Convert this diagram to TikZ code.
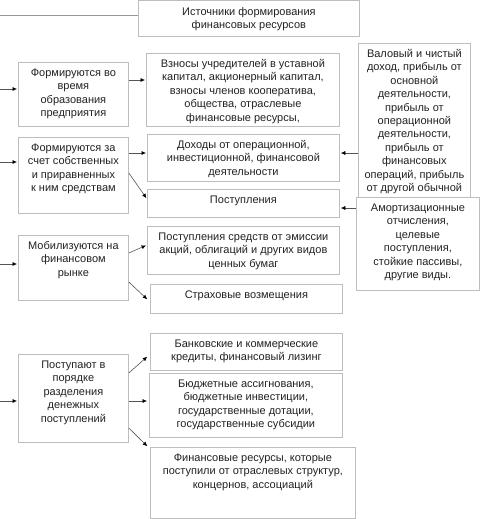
\documentclass[tikz,border=0pt]{standalone}
\usepackage{fontspec}
\setmainfont{Liberation Sans}
\usetikzlibrary{arrows.meta}
\definecolor{boxgray}{HTML}{BDBDBD}
\definecolor{txtgray}{HTML}{222222}
\definecolor{linegray}{HTML}{555555}
\tikzset{
  box/.style={draw=boxgray, line width=0.8pt, fill=white, inner sep=0pt, rectangle},
  txt/.style={inner sep=0pt, align=center, text=txtgray, font=\fontsize{11}{13.4}\selectfont},
  arr/.style={draw=linegray, line width=0.6pt, -{Latex[length=4.5pt,width=4pt,color=black]}, shorten >=1pt},
  plain/.style={draw=boxgray!80!black, line width=0.8pt},
}
\newcommand\bx[6]{%
  \node[box,anchor=north west,minimum width=#4pt,minimum height=#5pt] (#1) at (#2,#3) {};
  \node[txt,anchor=north] (#1t) at ([yshift=-5pt]#1.north) {\strut#6};}
\begin{document}
\begin{tikzpicture}[x=1pt,y=-1pt]
\useasboundingbox (0,0) rectangle (481,519);
\bx{top}{138}{0.5}{221}{36}{Источники формирования\\финансовых ресурсов}
\bx{a1}{18}{62}{110}{64}{Формируются во\\время\\образования\\предприятия}
\bx{b1}{146}{53}{193}{73}{Взносы учредителей в уставной\\капитал, акционерный капитал,\\взносы членов кооператива,\\общества, отраслевые\\финансовые ресурсы,}
\bx{r1}{358}{43}{112}{154}{Валовый и чистый\\доход, прибыль от\\основной\\деятельности,\\прибыль от\\операционной\\деятельности,\\прибыль от\\финансовых\\операций, прибыль\\от другой обычной}
\bx{a2}{18}{137}{110}{76}{Формируются за\\счет собственных\\и приравненных\\к ним средствам}
\bx{b2}{147}{134}{192}{47}{Доходы от операционной,\\инвестиционной, финансовой\\деятельности}
\bx{b3}{147}{189}{192}{28}{Поступления}
\bx{r2}{356}{197}{123}{93}{Амортизационные\\отчисления,\\целевые\\поступления,\\стойкие пассивы,\\другие виды.}
\bx{a3}{18}{235}{110}{65}{Мобилизуются на\\финансовом\\рынке}
\bx{b4}{147}{226}{192}{48}{Поступления средств от эмиссии\\акций, облигаций и других видов\\ценных бумаг}
\bx{b5}{150}{284}{192}{29}{Страховые возмещения}
\bx{a4}{18}{354}{110}{88}{Поступают в\\порядке\\разделения\\денежных\\поступлений}
\bx{b6}{150}{333}{192}{37}{Банковские и коммерческие\\кредиты, финансовый лизинг}
\bx{b7}{149}{373}{193}{64}{Бюджетные ассигнования,\\бюджетные инвестиции,\\государственные дотации,\\государственные субсидии}
\bx{b8}{150}{447}{205}{71}{Финансовые ресурсы, которые\\поступили от отраслевых структур,\\концернов, ассоциаций}
% free ends on the left edge
\coordinate (t0) at (0,15.5);
\coordinate (l1) at (0,89);
\coordinate (l2) at (0,162);
\coordinate (l3) at (0,264);
\coordinate (l4) at (0,401);
\draw[plain] (t0) -- (t0 -| top.west);
\draw[arr] (l1) -- (l1 -| a1.west);
\draw[arr] (l2) -- (l2 -| a2.west);
\draw[arr] (l3) -- (l3 -| a3.west);
\draw[arr] (l4) -- (l4 -| a4.west);
% middle connectors
\draw[arr] (a1.east |- 0,80) -- (b1.west |- 0,80);
\draw[arr] (a2.east |- 0,153) -- (b2.west |- 0,153);
\draw[arr] (a2.east |- 0,173) -- (b3.west |- 0,199);
\draw[arr] (r1.west |- 0,153) -- (b2.east |- 0,153);
\draw[arr] (r2.west |- 0,208) -- (b3.east |- 0,208);
\draw[arr] (a3.east |- 0,253) -- (b4.west |- 0,245);
\draw[arr] (a3.east |- 0,282) -- ([xshift=-2pt]b5.west |- 0,300);
\draw[arr] (a4.east |- 0,373) -- ([xshift=-2pt]b6.west |- 0,356);
\draw[arr] (a4.east |- 0,401) -- ([xshift=-1pt]b7.west |- 0,401);
\draw[arr] (a4.east |- 0,428) -- ([xshift=-2pt]b8.west |- 0,447);
\end{tikzpicture}
\end{document}
